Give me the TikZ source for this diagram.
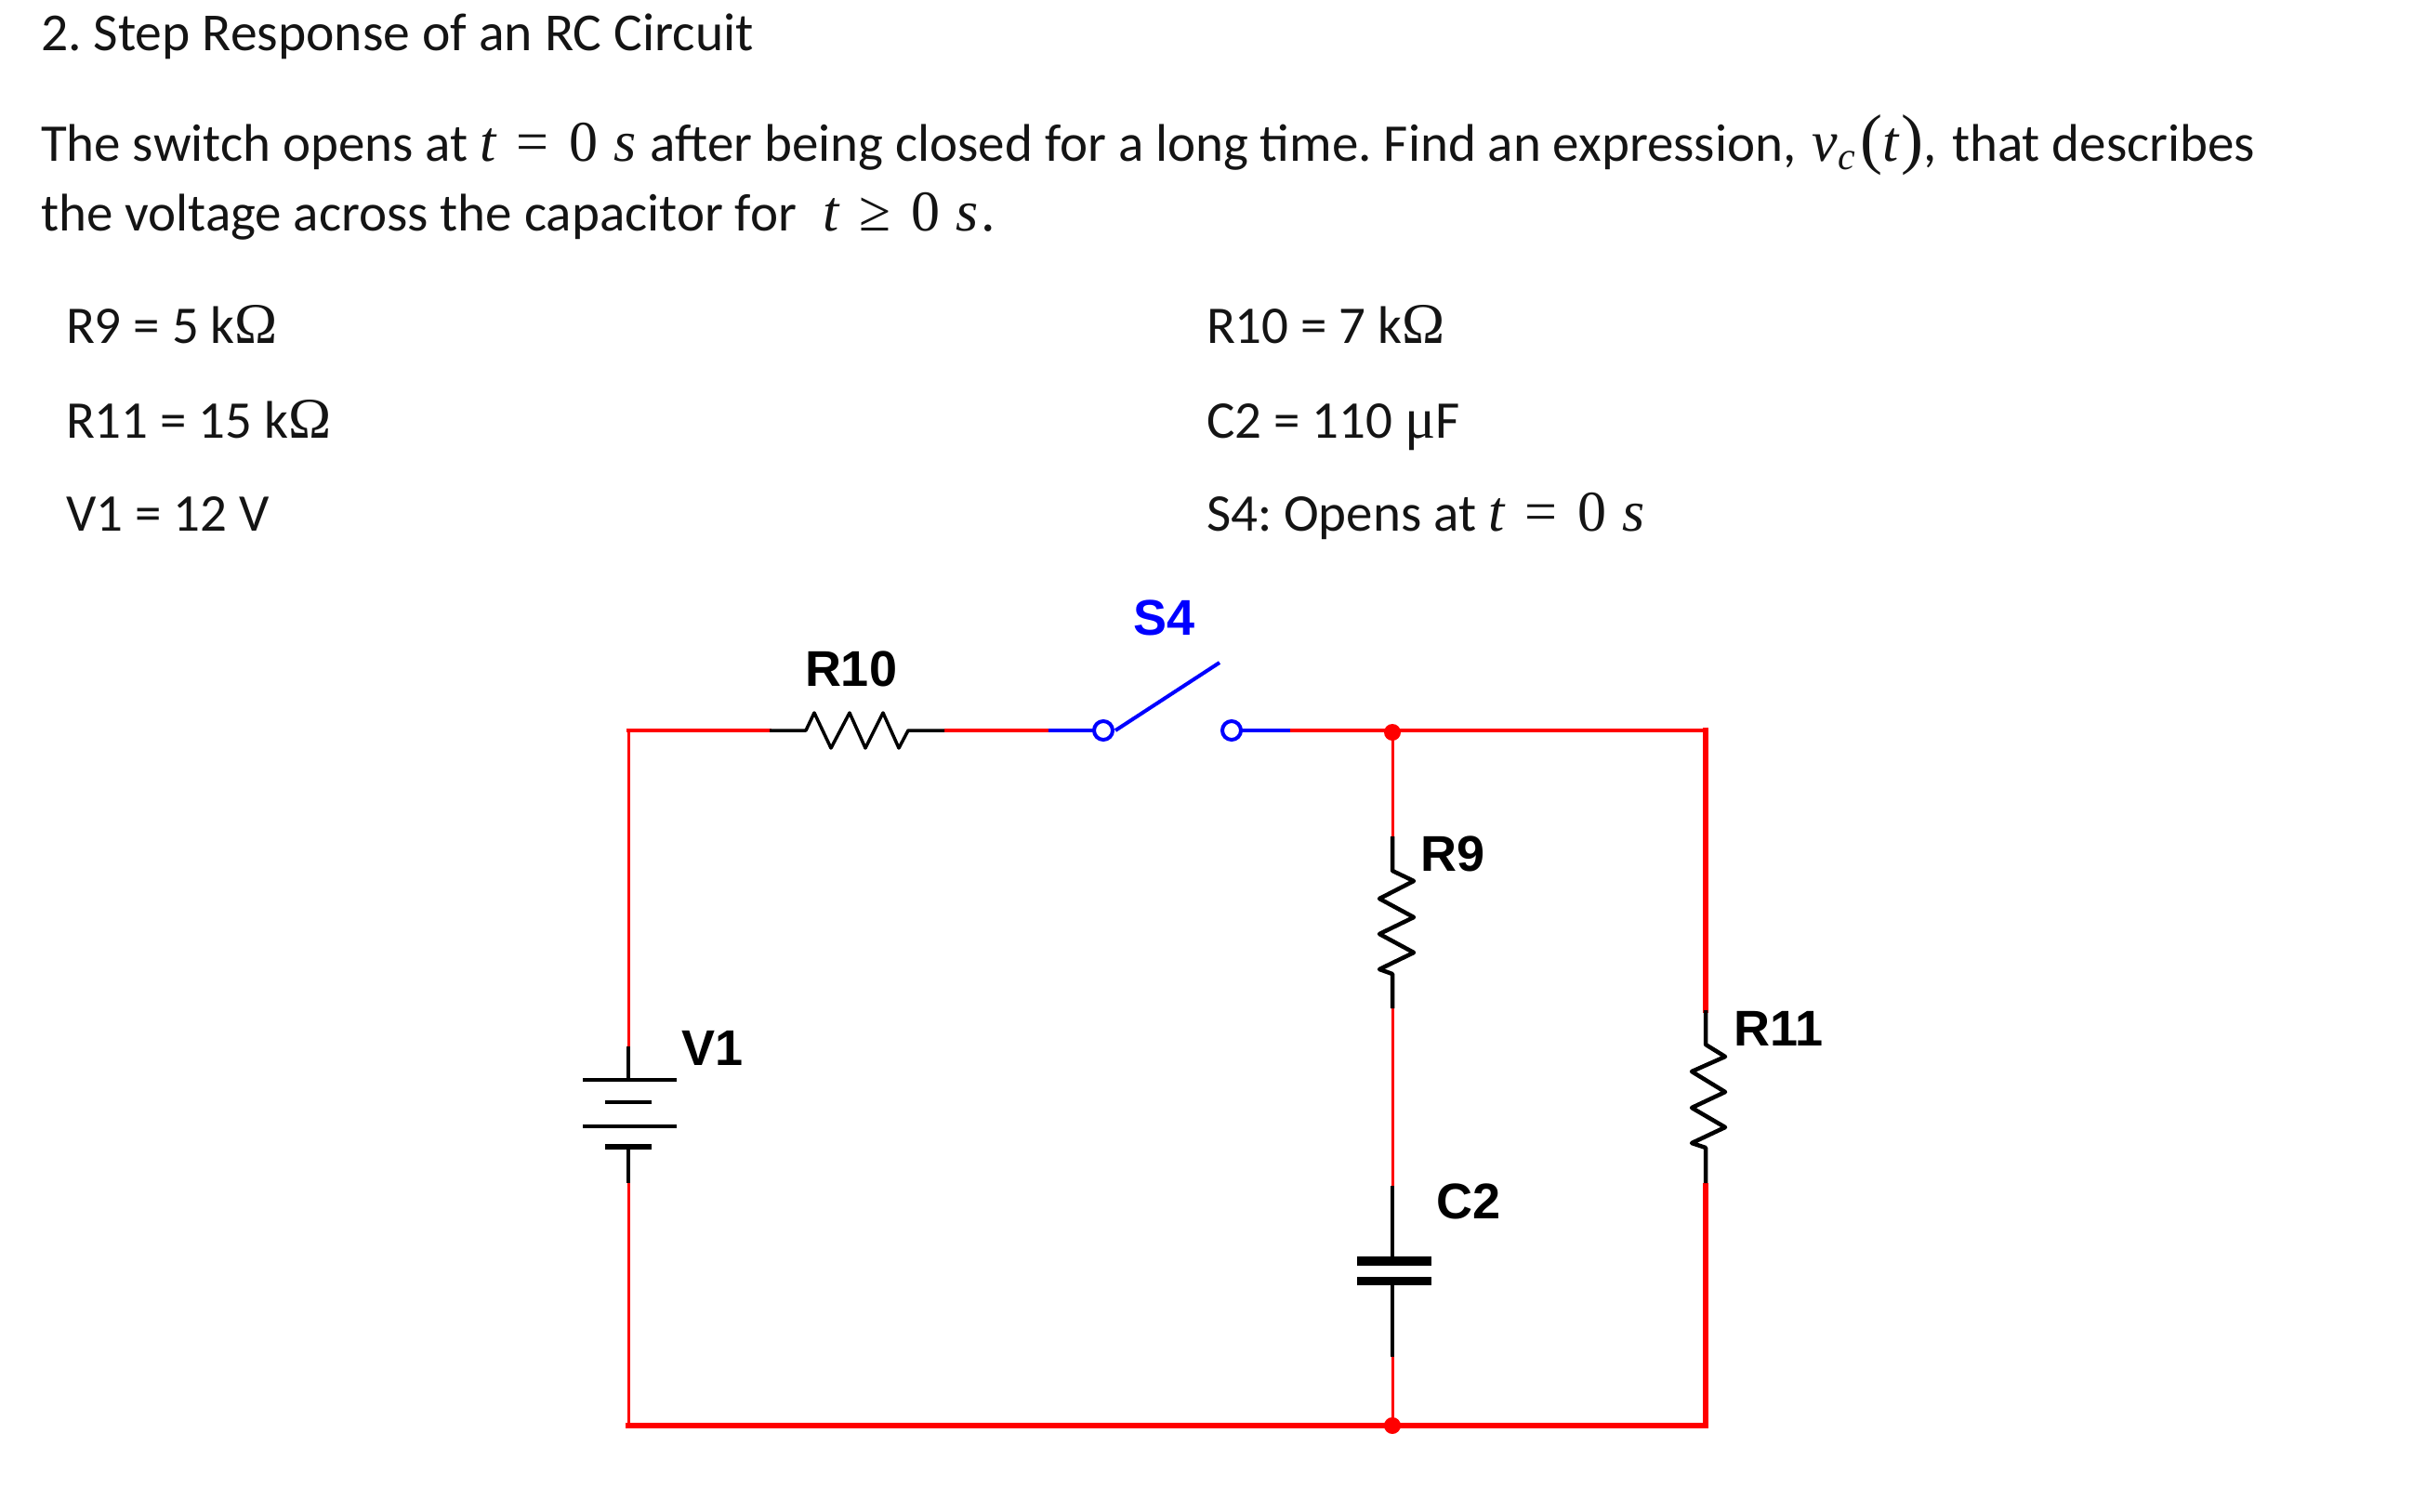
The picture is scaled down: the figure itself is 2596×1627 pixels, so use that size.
\documentclass[tikz,border=0pt]{standalone}
\usepackage{fontspec}
\usetikzlibrary{backgrounds}
\setmainfont{Carlito}
\newfontfamily\serifm{Liberation Serif}
\newfontfamily\labelf{Liberation Sans}
\newcommand{\mvar}[1]{{\fontsize{62}{60}\selectfont\serifm\itshape #1}}
\newcommand{\msym}[1]{{\fontsize{62}{60}\selectfont\serifm #1}}
\newcommand{\bigpar}[1]{{\fontsize{72}{60}\selectfont\serifm #1}}
\newcommand{\mgap}{\hspace{22pt}}
\newcommand{\sgap}{\hspace{17pt}}
\definecolor{wirered}{RGB}{255,0,0}
\definecolor{swblue}{RGB}{0,0,255}
\tikzset{
 txt/.style={anchor=base west,inner sep=0pt,outer sep=0pt,font=\fontsize{57}{60}\selectfont\frenchspacing,text=black!92},
 cirlabel/.style={anchor=west,inner sep=0pt,outer sep=0pt,font=\labelf\bfseries\fontsize{54}{60}\selectfont},
 redthin/.style={draw=wirered,line width=3pt},
 redmid/.style={draw=wirered,line width=4pt},
 redthick/.style={draw=wirered,line width=5.5pt},
 blk/.style={draw=black,line width=3.5pt,line join=round},
 blkb/.style={draw=black,line width=4.5pt,line join=round},
 plate/.style={draw=black,line width=#1},
 blu/.style={draw=swblue,line width=4pt},
 terminal/.style={circle,draw=swblue,fill=white,line width=4pt,minimum size=20pt,inner sep=0pt},
 junction/.style={circle,fill=wirered,minimum size=18pt,inner sep=0pt}
}
\begin{document}
\begin{tikzpicture}[x=1pt,y=-1pt]
\useasboundingbox (0,0) rectangle (2596,1627);
\begin{scope}[on background layer]
\fill[white] (0,0) rectangle (2596,1627);
\end{scope}
% text
\node[txt,font=\fontsize{57.6}{60}\selectfont\frenchspacing] (title) at (44,55) {2. Step Response of an RC Circuit};
\node[txt] (l1) at (44,173) {The switch opens at \mvar{t}\mgap\msym{=}\mgap\msym{0}\sgap\mvar{s}\hspace{15pt}after being closed for a long time. Find an expression,\hspace{17pt}\mvar{v}\raisebox{-9pt}{\fontsize{42}{40}\selectfont\serifm\itshape c}\hspace{6pt}\bigpar{(}\mvar{t}\hspace{2pt}\bigpar{)}, \hspace{4pt}that describes};
\node[txt] (l2) at (44,248) {the voltage across the capacitor for\ \ \hspace{3pt}\mvar{t}\mgap\msym{≥}\mgap\msym{0}\sgap\mvar{s}\hspace{2pt}\msym{.}};
\node[txt] (p1) at (71,369) {R9 = 5 k\msym{Ω}};
\node[txt] (p2) at (71,471) {R11 = 15 k\msym{Ω}};
\node[txt] (p3) at (71,571) {V1 = 12 V};
\node[txt] (p4) at (1298,369) {R10 = 7 k\msym{Ω}};
\node[txt] (p5) at (1298,471) {C2 = 110 \msym{μ}F};
\node[txt] (p6) at (1298,571) {S4: Opens at \mvar{t}\mgap\msym{=}\mgap\msym{0}\sgap\mvar{s}};
% corners and junctions
\coordinate (tl) at (676,786);
\coordinate (bl) at (676,1534);
\coordinate (tr) at (1835,786);
\coordinate (br) at (1835,1534);
\node[junction] (jt) at (1498,788) {};
\node[junction] (jb) at (1498,1534) {};
% connection points
\coordinate (r10a) at (828,786); \coordinate (r10b) at (1016,786);
\coordinate (s1w) at (1128,786); \coordinate (s2w) at (1388,786);
\coordinate (armend) at (1312,713);
\coordinate (r9a) at (1498,900); \coordinate (r9b) at (1498,1085);
\coordinate (c2a) at (1498,1276); \coordinate (c2b) at (1498,1460);
\coordinate (v1a) at (676,1126); \coordinate (v1b) at (676,1273);
\coordinate (r11a) at (1835,1087); \coordinate (r11b) at (1835,1273);
\begin{scope}[on background layer]
% red wires
\draw[redthin] (v1a) -- (tl);
\draw[redthin] (v1b) -- (bl);
\draw[redmid,line cap=rect] (tl) -- (r10a);
\draw[redmid] (r10b) -- (s1w);
\draw[redmid,line cap=rect] (s2w) -- (tr);
\draw[redthick,line cap=rect] (tr) -- (r11a);
\draw[redthin] (jt.center) -- (r9a);
\draw[redthin] (r9b) -- (c2a);
\draw[redthin] (c2b) -- (jb.center);
\draw[redthick] (r11b) -- (br);
\draw[redthick,line cap=rect] (bl) -- (br);
\end{scope}
% R10
\draw[blk] (r10a) -- (867,786) -- (876,767) -- (894,805) -- (914,767) -- (931,805) -- (950,767) -- (967,805) -- (977,786) -- (r10b);
% R9
\draw[blkb] (r9a) -- (1498,937) -- (1521,948) -- (1484,967) -- (1521,987) -- (1484,1005) -- (1521,1025) -- (1484,1043) -- (1498,1048) -- (r9b);
% R11
\draw[blkb] (r11a) -- (1835,1124) -- (1856,1137) -- (1820,1153) -- (1856,1175) -- (1820,1192) -- (1856,1213) -- (1820,1230) -- (1835,1235) -- (r11b);
% C2
\coordinate (c2p1) at (1498,1357); \coordinate (c2p2) at (1498,1378);
\draw[blk] (c2a) -- (c2p1);
\draw[blk] (c2p2) -- (c2b);
\draw[plate=10pt] (1460,1357) -- (1540,1357);
\draw[plate=9pt] (1460,1378) -- (1540,1378);
% V1
\coordinate (v1p1) at (676,1162); \coordinate (v1p2) at (676,1234);
\draw[blk] (v1a) -- (v1p1);
\draw[blk] (v1p2) -- (v1b);
\draw[plate=4pt] (627,1162) -- (728,1162);
\draw[plate=4pt] (651,1186) -- (701,1186);
\draw[plate=4pt] (627,1212) -- (728,1212);
\draw[plate=6pt] (651,1234) -- (701,1234);
% switch
\draw[blu] (1200,786) -- (armend);
\draw[blu] (s1w) -- (1187,786);
\draw[blu] (1325,786) -- (s2w);
\node[terminal] (s1) at (1187,786) {};
\node[terminal] (s2) at (1325,786) {};
% labels
\node[cirlabel] (lr10) at (866,720) {R10};
\node[cirlabel,text=swblue] (ls4) at (1219,665) {S4};
\node[cirlabel] (lr9) at (1528,919) {R9};
\node[cirlabel] (lv1) at (733,1128) {V1};
\node[cirlabel] (lr11) at (1865,1107) {R11};
\node[cirlabel] (lc2) at (1545,1293) {C2};
\end{tikzpicture}
\end{document}
